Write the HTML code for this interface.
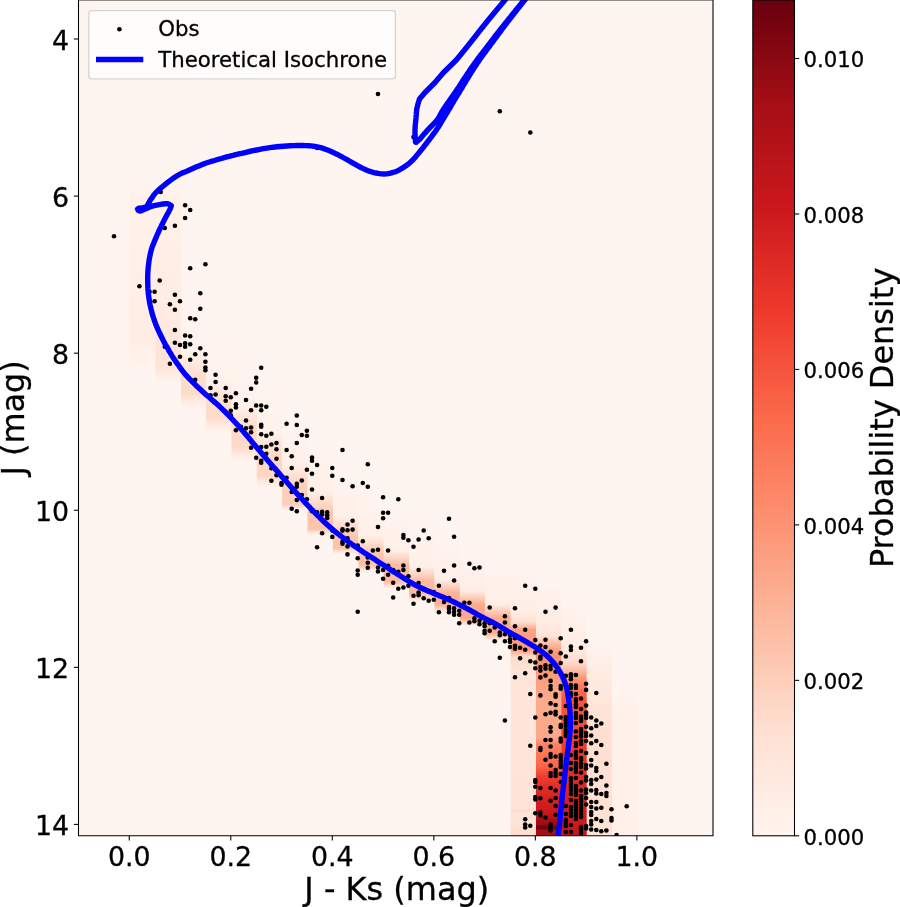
<!DOCTYPE html><html><head><meta charset="utf-8"><title>CMD</title><style>html,body{margin:0;padding:0;background:#fff;overflow:hidden}svg{display:block}text{font-family:"DejaVu Sans","Liberation Sans",sans-serif;fill:#000;stroke:#000;stroke-width:0.3px}</style></head><body>
<svg width="900" height="907" viewBox="0 0 900 907">
<rect width="900" height="907" fill="#fff"/>
<defs>
<clipPath id="ax"><rect x="78.5" y="0.0" width="634.5" height="835.8"/></clipPath>
<linearGradient id="cb" x1="0" y1="0" x2="0" y2="1"><stop offset="0.0000" stop-color="#67000d"/><stop offset="0.0312" stop-color="#76040f"/><stop offset="0.0625" stop-color="#860811"/><stop offset="0.0938" stop-color="#960b13"/><stop offset="0.1250" stop-color="#a50f15"/><stop offset="0.1562" stop-color="#ae1117"/><stop offset="0.1875" stop-color="#b81419"/><stop offset="0.2188" stop-color="#c2161b"/><stop offset="0.2500" stop-color="#cb181d"/><stop offset="0.2812" stop-color="#d42121"/><stop offset="0.3125" stop-color="#dd2a24"/><stop offset="0.3438" stop-color="#e63228"/><stop offset="0.3750" stop-color="#ef3b2c"/><stop offset="0.4062" stop-color="#f24734"/><stop offset="0.4375" stop-color="#f5523b"/><stop offset="0.4688" stop-color="#f85e42"/><stop offset="0.5000" stop-color="#fb6a4a"/><stop offset="0.5312" stop-color="#fb7454"/><stop offset="0.5625" stop-color="#fc7e5e"/><stop offset="0.5938" stop-color="#fc8868"/><stop offset="0.6250" stop-color="#fc9272"/><stop offset="0.6562" stop-color="#fc9c7e"/><stop offset="0.6875" stop-color="#fca68a"/><stop offset="0.7188" stop-color="#fcb195"/><stop offset="0.7500" stop-color="#fcbba1"/><stop offset="0.7812" stop-color="#fcc4ad"/><stop offset="0.8125" stop-color="#fdceba"/><stop offset="0.8438" stop-color="#fed7c6"/><stop offset="0.8750" stop-color="#fee0d2"/><stop offset="0.9062" stop-color="#fee5da"/><stop offset="0.9375" stop-color="#feeae1"/><stop offset="0.9688" stop-color="#fff0e8"/><stop offset="1.0000" stop-color="#fff5f0"/></linearGradient>
<linearGradient id="h0" gradientUnits="userSpaceOnUse" x1="0" y1="0.0" x2="0" y2="835.8"><stop offset="0.0000" stop-color="#fff5f0"/><stop offset="0.3673" stop-color="#fff5f0"/><stop offset="0.4235" stop-color="#fff2eb"/><stop offset="0.4520" stop-color="#fedccc"/><stop offset="0.4715" stop-color="#fedccc"/><stop offset="0.4810" stop-color="#ffece3"/><stop offset="0.4906" stop-color="#fff5f0"/><stop offset="1.0002" stop-color="#fff5f0"/></linearGradient>
<linearGradient id="h1" gradientUnits="userSpaceOnUse" x1="0" y1="0.0" x2="0" y2="835.8"><stop offset="0.0000" stop-color="#fff5f0"/><stop offset="0.3997" stop-color="#fff5f0"/><stop offset="0.4559" stop-color="#fff2eb"/><stop offset="0.4829" stop-color="#fedccc"/><stop offset="0.5000" stop-color="#fedccc"/><stop offset="0.5096" stop-color="#ffece3"/><stop offset="0.5192" stop-color="#fff5f0"/><stop offset="1.0002" stop-color="#fff5f0"/></linearGradient>
<linearGradient id="h2" gradientUnits="userSpaceOnUse" x1="0" y1="0.0" x2="0" y2="835.8"><stop offset="0.0000" stop-color="#fff5f0"/><stop offset="0.4283" stop-color="#fff5f0"/><stop offset="0.4845" stop-color="#fff1eb"/><stop offset="0.5138" stop-color="#fed9c8"/><stop offset="0.5345" stop-color="#fed9c8"/><stop offset="0.5441" stop-color="#ffebe2"/><stop offset="0.5537" stop-color="#fff5f0"/><stop offset="1.0002" stop-color="#fff5f0"/></linearGradient>
<linearGradient id="h3" gradientUnits="userSpaceOnUse" x1="0" y1="0.0" x2="0" y2="835.8"><stop offset="0.0000" stop-color="#fff5f0"/><stop offset="0.4627" stop-color="#fff5f0"/><stop offset="0.5190" stop-color="#fff1eb"/><stop offset="0.5486" stop-color="#fdd6c4"/><stop offset="0.5697" stop-color="#fdd6c4"/><stop offset="0.5768" stop-color="#feeae1"/><stop offset="0.5840" stop-color="#fff5f0"/><stop offset="1.0002" stop-color="#fff5f0"/></linearGradient>
<linearGradient id="h4" gradientUnits="userSpaceOnUse" x1="0" y1="0.0" x2="0" y2="835.8"><stop offset="0.0000" stop-color="#fff5f0"/><stop offset="0.4979" stop-color="#fff5f0"/><stop offset="0.5541" stop-color="#fff1ea"/><stop offset="0.5832" stop-color="#fdceba"/><stop offset="0.6034" stop-color="#fdceba"/><stop offset="0.6076" stop-color="#fee9de"/><stop offset="0.6118" stop-color="#fff5f0"/><stop offset="1.0002" stop-color="#fff5f0"/></linearGradient>
<linearGradient id="h5" gradientUnits="userSpaceOnUse" x1="0" y1="0.0" x2="0" y2="835.8"><stop offset="0.0000" stop-color="#fff5f0"/><stop offset="0.5316" stop-color="#fff5f0"/><stop offset="0.5878" stop-color="#fff0e9"/><stop offset="0.6152" stop-color="#fcc4ad"/><stop offset="0.6330" stop-color="#fcc4ad"/><stop offset="0.6372" stop-color="#fee6db"/><stop offset="0.6414" stop-color="#fff5f0"/><stop offset="1.0002" stop-color="#fff5f0"/></linearGradient>
<linearGradient id="h6" gradientUnits="userSpaceOnUse" x1="0" y1="0.0" x2="0" y2="835.8"><stop offset="0.0000" stop-color="#fff5f0"/><stop offset="0.5612" stop-color="#fff5f0"/><stop offset="0.6175" stop-color="#fff0e9"/><stop offset="0.6421" stop-color="#fcc4ad"/><stop offset="0.6558" stop-color="#fcc4ad"/><stop offset="0.6600" stop-color="#fee6db"/><stop offset="0.6642" stop-color="#fff5f0"/><stop offset="1.0002" stop-color="#fff5f0"/></linearGradient>
<linearGradient id="h7" gradientUnits="userSpaceOnUse" x1="0" y1="0.0" x2="0" y2="835.8"><stop offset="0.0000" stop-color="#fff5f0"/><stop offset="0.5840" stop-color="#fff5f0"/><stop offset="0.6402" stop-color="#fff0e8"/><stop offset="0.6638" stop-color="#fcc1a9"/><stop offset="0.6758" stop-color="#fcc1a9"/><stop offset="0.6812" stop-color="#fee6da"/><stop offset="0.6866" stop-color="#fff5f0"/><stop offset="1.0002" stop-color="#fff5f0"/></linearGradient>
<linearGradient id="h8" gradientUnits="userSpaceOnUse" x1="0" y1="0.0" x2="0" y2="835.8"><stop offset="0.0000" stop-color="#fff5f0"/><stop offset="0.6040" stop-color="#fff5f0"/><stop offset="0.6591" stop-color="#ffefe8"/><stop offset="0.6758" stop-color="#fcbba1"/><stop offset="0.6950" stop-color="#fcbba1"/><stop offset="0.7045" stop-color="#fff5f0"/><stop offset="1.0002" stop-color="#fff5f0"/></linearGradient>
<linearGradient id="h9" gradientUnits="userSpaceOnUse" x1="0" y1="0.0" x2="0" y2="835.8"><stop offset="0.0000" stop-color="#fff5f0"/><stop offset="0.6232" stop-color="#fff5f0"/><stop offset="0.6782" stop-color="#ffefe8"/><stop offset="0.6950" stop-color="#fcbba1"/><stop offset="0.7100" stop-color="#fcbba1"/><stop offset="0.7196" stop-color="#fff5f0"/><stop offset="1.0002" stop-color="#fff5f0"/></linearGradient>
<linearGradient id="h10" gradientUnits="userSpaceOnUse" x1="0" y1="0.0" x2="0" y2="835.8"><stop offset="0.0000" stop-color="#fff5f0"/><stop offset="0.6382" stop-color="#fff5f0"/><stop offset="0.6932" stop-color="#ffeee7"/><stop offset="0.7100" stop-color="#fcb196"/><stop offset="0.7235" stop-color="#fcb196"/><stop offset="0.7331" stop-color="#fff5f0"/><stop offset="1.0002" stop-color="#fff5f0"/></linearGradient>
<linearGradient id="h11" gradientUnits="userSpaceOnUse" x1="0" y1="0.0" x2="0" y2="835.8"><stop offset="0.0000" stop-color="#fff5f0"/><stop offset="0.6517" stop-color="#fff5f0"/><stop offset="0.7068" stop-color="#ffeee6"/><stop offset="0.7235" stop-color="#fcab8e"/><stop offset="0.7397" stop-color="#fcab8e"/><stop offset="0.7492" stop-color="#fff5f0"/><stop offset="1.0002" stop-color="#fff5f0"/></linearGradient>
<linearGradient id="h12" gradientUnits="userSpaceOnUse" x1="0" y1="0.0" x2="0" y2="835.8"><stop offset="0.0000" stop-color="#fff5f0"/><stop offset="0.6679" stop-color="#fff5f0"/><stop offset="0.7229" stop-color="#ffeee6"/><stop offset="0.7397" stop-color="#fcab8e"/><stop offset="0.7569" stop-color="#fcab8e"/><stop offset="0.7664" stop-color="#fff5f0"/><stop offset="1.0002" stop-color="#fff5f0"/></linearGradient>
<linearGradient id="h13" gradientUnits="userSpaceOnUse" x1="0" y1="0.0" x2="0" y2="835.8"><stop offset="0.0000" stop-color="#fff5f0"/><stop offset="0.2752" stop-color="#fff5f0"/><stop offset="0.3111" stop-color="#fff3ee"/><stop offset="0.4068" stop-color="#fff3ee"/><stop offset="0.4427" stop-color="#fff5f0"/><stop offset="1.0002" stop-color="#fff5f0"/></linearGradient>
<linearGradient id="h14" gradientUnits="userSpaceOnUse" x1="0" y1="0.0" x2="0" y2="835.8"><stop offset="0.0000" stop-color="#fff5f0"/><stop offset="0.2213" stop-color="#fff5f0"/><stop offset="0.2393" stop-color="#fff1ea"/><stop offset="0.3589" stop-color="#ffeee6"/><stop offset="0.4068" stop-color="#ffede4"/><stop offset="0.4451" stop-color="#fff5f0"/><stop offset="1.0002" stop-color="#fff5f0"/></linearGradient>
<linearGradient id="h15" gradientUnits="userSpaceOnUse" x1="0" y1="0.0" x2="0" y2="835.8"><stop offset="0.0000" stop-color="#fff5f0"/><stop offset="0.2213" stop-color="#fff5f0"/><stop offset="0.2393" stop-color="#fff1ea"/><stop offset="0.3829" stop-color="#ffebe2"/><stop offset="0.4104" stop-color="#fee4d8"/><stop offset="0.4403" stop-color="#fee4d8"/><stop offset="0.4499" stop-color="#ffeee6"/><stop offset="0.4594" stop-color="#fff5f0"/><stop offset="1.0002" stop-color="#fff5f0"/></linearGradient>
<linearGradient id="h16" gradientUnits="userSpaceOnUse" x1="0" y1="0.0" x2="0" y2="835.8"><stop offset="0.0000" stop-color="#fff5f0"/><stop offset="0.6700" stop-color="#fff5f0"/><stop offset="0.7322" stop-color="#ffede4"/><stop offset="0.7442" stop-color="#fee1d3"/><stop offset="0.7538" stop-color="#fca183"/><stop offset="0.7765" stop-color="#fc9a7b"/><stop offset="0.7861" stop-color="#fedccc"/><stop offset="0.8040" stop-color="#fee4d8"/><stop offset="0.8375" stop-color="#fee6da"/><stop offset="0.9667" stop-color="#fee4d8"/><stop offset="0.9703" stop-color="#fedfd0"/><stop offset="0.9727" stop-color="#fee4d8"/><stop offset="0.9859" stop-color="#fee4d8"/><stop offset="0.9907" stop-color="#fedfd0"/><stop offset="1.0002" stop-color="#fedfd0"/></linearGradient>
<linearGradient id="h17" gradientUnits="userSpaceOnUse" x1="0" y1="0.0" x2="0" y2="835.8"><stop offset="0.0000" stop-color="#fff5f0"/><stop offset="0.6939" stop-color="#fff5f0"/><stop offset="0.7478" stop-color="#ffebe2"/><stop offset="0.7609" stop-color="#fee3d6"/><stop offset="0.7705" stop-color="#fcbba1"/><stop offset="0.7801" stop-color="#fc9778"/><stop offset="0.7897" stop-color="#fc9070"/><stop offset="0.8064" stop-color="#fc9a7b"/><stop offset="0.8375" stop-color="#fcab8e"/><stop offset="0.8830" stop-color="#fca78a"/><stop offset="0.8902" stop-color="#fc8464"/><stop offset="0.9153" stop-color="#fb6a4a"/><stop offset="0.9285" stop-color="#ef3d2d"/><stop offset="0.9440" stop-color="#df2c25"/><stop offset="0.9572" stop-color="#d42021"/><stop offset="0.9727" stop-color="#cb181d"/><stop offset="0.9763" stop-color="#c2161b"/><stop offset="0.9799" stop-color="#aa1016"/><stop offset="0.9865" stop-color="#990c13"/><stop offset="0.9883" stop-color="#76040f"/><stop offset="0.9919" stop-color="#76040f"/><stop offset="0.9937" stop-color="#a30e15"/><stop offset="1.0002" stop-color="#aa1016"/></linearGradient>
<linearGradient id="h18" gradientUnits="userSpaceOnUse" x1="0" y1="0.0" x2="0" y2="835.8"><stop offset="0.0000" stop-color="#fff5f0"/><stop offset="0.7179" stop-color="#fff5f0"/><stop offset="0.7657" stop-color="#ffeee6"/><stop offset="0.7801" stop-color="#fee8dd"/><stop offset="0.7933" stop-color="#fed9c8"/><stop offset="0.8004" stop-color="#fcc4ad"/><stop offset="0.8064" stop-color="#fcab8e"/><stop offset="0.8136" stop-color="#fc9070"/><stop offset="0.8256" stop-color="#fb7050"/><stop offset="0.8375" stop-color="#f6573e"/><stop offset="0.8615" stop-color="#f45039"/><stop offset="0.8973" stop-color="#ee3a2b"/><stop offset="0.9332" stop-color="#df2c25"/><stop offset="0.9691" stop-color="#d11e1f"/><stop offset="1.0002" stop-color="#c2161b"/></linearGradient>
<linearGradient id="h19" gradientUnits="userSpaceOnUse" x1="0" y1="0.0" x2="0" y2="835.8"><stop offset="0.0000" stop-color="#fff5f0"/><stop offset="0.7657" stop-color="#fff5f0"/><stop offset="0.7956" stop-color="#ffeee6"/><stop offset="0.8375" stop-color="#fee6da"/><stop offset="0.8854" stop-color="#fedfd0"/><stop offset="0.9332" stop-color="#fee1d3"/><stop offset="1.0002" stop-color="#fee3d6"/></linearGradient>
<linearGradient id="h20" gradientUnits="userSpaceOnUse" x1="0" y1="0.0" x2="0" y2="835.8"><stop offset="0.0000" stop-color="#fff5f0"/><stop offset="0.8136" stop-color="#fff5f0"/><stop offset="0.8615" stop-color="#fff0e9"/><stop offset="1.0002" stop-color="#fff0e9"/></linearGradient>
</defs>
<rect x="78.5" y="0.0" width="634.5" height="835.8" fill="#fff5f0"/>
<g clip-path="url(#ax)">
<rect x="180.62" y="0.0" width="25.68" height="835.8" fill="url(#h0)"/>
<rect x="206.00" y="0.0" width="25.68" height="835.8" fill="url(#h1)"/>
<rect x="231.38" y="0.0" width="25.68" height="835.8" fill="url(#h2)"/>
<rect x="256.76" y="0.0" width="25.68" height="835.8" fill="url(#h3)"/>
<rect x="282.14" y="0.0" width="25.68" height="835.8" fill="url(#h4)"/>
<rect x="307.52" y="0.0" width="25.68" height="835.8" fill="url(#h5)"/>
<rect x="332.90" y="0.0" width="25.68" height="835.8" fill="url(#h6)"/>
<rect x="358.28" y="0.0" width="25.68" height="835.8" fill="url(#h7)"/>
<rect x="383.66" y="0.0" width="25.68" height="835.8" fill="url(#h8)"/>
<rect x="409.04" y="0.0" width="25.68" height="835.8" fill="url(#h9)"/>
<rect x="434.42" y="0.0" width="25.68" height="835.8" fill="url(#h10)"/>
<rect x="459.80" y="0.0" width="25.68" height="835.8" fill="url(#h11)"/>
<rect x="485.18" y="0.0" width="25.68" height="835.8" fill="url(#h12)"/>
<rect x="104.48" y="0.0" width="25.68" height="835.8" fill="url(#h13)"/>
<rect x="129.86" y="0.0" width="25.68" height="835.8" fill="url(#h14)"/>
<rect x="155.24" y="0.0" width="25.68" height="835.8" fill="url(#h15)"/>
<rect x="510.56" y="0.0" width="25.68" height="835.8" fill="url(#h16)"/>
<rect x="535.94" y="0.0" width="25.68" height="835.8" fill="url(#h17)"/>
<rect x="561.32" y="0.0" width="25.68" height="835.8" fill="url(#h18)"/>
<rect x="586.70" y="0.0" width="25.68" height="835.8" fill="url(#h19)"/>
<rect x="612.08" y="0.0" width="25.68" height="835.8" fill="url(#h20)"/>
<g fill="#000">
<circle cx="378.0" cy="94.0" r="2.3"/>
<circle cx="378.0" cy="527.0" r="2.3"/>
<circle cx="378.0" cy="549.7" r="2.3"/>
<circle cx="378.0" cy="567.5" r="2.3"/>
<circle cx="378.0" cy="571.5" r="2.3"/>
<circle cx="499.8" cy="111.3" r="2.3"/>
<circle cx="499.8" cy="632.5" r="2.3"/>
<circle cx="499.8" cy="635.3" r="2.3"/>
<circle cx="499.8" cy="657.8" r="2.3"/>
<circle cx="530.3" cy="132.5" r="2.3"/>
<circle cx="530.3" cy="661.2" r="2.3"/>
<circle cx="530.3" cy="694.0" r="2.3"/>
<circle cx="530.3" cy="745.8" r="2.3"/>
<circle cx="530.3" cy="825.8" r="2.3"/>
<circle cx="413.5" cy="137.0" r="2.3"/>
<circle cx="413.5" cy="546.7" r="2.3"/>
<circle cx="413.5" cy="595.8" r="2.3"/>
<circle cx="413.5" cy="603.8" r="2.3"/>
<circle cx="185.1" cy="205.3" r="2.3"/>
<circle cx="185.1" cy="218.0" r="2.3"/>
<circle cx="185.1" cy="335.5" r="2.3"/>
<circle cx="185.1" cy="343.3" r="2.3"/>
<circle cx="185.1" cy="346.7" r="2.3"/>
<circle cx="190.2" cy="210.0" r="2.3"/>
<circle cx="190.2" cy="268.3" r="2.3"/>
<circle cx="190.2" cy="318.3" r="2.3"/>
<circle cx="190.2" cy="336.2" r="2.3"/>
<circle cx="190.2" cy="344.2" r="2.3"/>
<circle cx="190.2" cy="359.8" r="2.3"/>
<circle cx="174.9" cy="225.8" r="2.3"/>
<circle cx="174.9" cy="294.7" r="2.3"/>
<circle cx="174.9" cy="309.7" r="2.3"/>
<circle cx="174.9" cy="330.0" r="2.3"/>
<circle cx="174.9" cy="342.8" r="2.3"/>
<circle cx="164.8" cy="228.0" r="2.3"/>
<circle cx="164.8" cy="346.7" r="2.3"/>
<circle cx="160.7" cy="192.0" r="2.3"/>
<circle cx="149.6" cy="291.7" r="2.3"/>
<circle cx="317.1" cy="148.0" r="2.3"/>
<circle cx="317.1" cy="465.0" r="2.3"/>
<circle cx="317.1" cy="512.4" r="2.3"/>
<circle cx="317.1" cy="547.2" r="2.3"/>
<circle cx="114.0" cy="236.2" r="2.3"/>
<circle cx="205.4" cy="264.2" r="2.3"/>
<circle cx="205.4" cy="354.3" r="2.3"/>
<circle cx="205.4" cy="361.7" r="2.3"/>
<circle cx="205.4" cy="367.5" r="2.3"/>
<circle cx="205.4" cy="370.3" r="2.3"/>
<circle cx="159.7" cy="280.5" r="2.3"/>
<circle cx="139.4" cy="286.2" r="2.3"/>
<circle cx="154.6" cy="291.7" r="2.3"/>
<circle cx="154.6" cy="301.2" r="2.3"/>
<circle cx="154.6" cy="320.8" r="2.3"/>
<circle cx="200.3" cy="293.3" r="2.3"/>
<circle cx="200.3" cy="308.8" r="2.3"/>
<circle cx="200.3" cy="348.2" r="2.3"/>
<circle cx="180.0" cy="301.2" r="2.3"/>
<circle cx="180.0" cy="345.0" r="2.3"/>
<circle cx="180.0" cy="356.8" r="2.3"/>
<circle cx="169.9" cy="304.2" r="2.3"/>
<circle cx="169.9" cy="363.7" r="2.3"/>
<circle cx="195.2" cy="319.3" r="2.3"/>
<circle cx="195.2" cy="354.3" r="2.3"/>
<circle cx="195.2" cy="379.7" r="2.3"/>
<circle cx="215.6" cy="374.7" r="2.3"/>
<circle cx="215.6" cy="382.0" r="2.3"/>
<circle cx="215.6" cy="394.5" r="2.3"/>
<circle cx="256.2" cy="377.8" r="2.3"/>
<circle cx="256.2" cy="382.5" r="2.3"/>
<circle cx="256.2" cy="405.5" r="2.3"/>
<circle cx="256.2" cy="457.8" r="2.3"/>
<circle cx="261.2" cy="367.8" r="2.3"/>
<circle cx="261.2" cy="405.5" r="2.3"/>
<circle cx="261.2" cy="410.3" r="2.3"/>
<circle cx="261.2" cy="424.7" r="2.3"/>
<circle cx="261.2" cy="426.7" r="2.3"/>
<circle cx="261.2" cy="434.2" r="2.3"/>
<circle cx="261.2" cy="447.0" r="2.3"/>
<circle cx="261.2" cy="460.8" r="2.3"/>
<circle cx="261.2" cy="462.8" r="2.3"/>
<circle cx="210.5" cy="388.0" r="2.3"/>
<circle cx="210.5" cy="395.3" r="2.3"/>
<circle cx="225.7" cy="388.0" r="2.3"/>
<circle cx="225.7" cy="396.2" r="2.3"/>
<circle cx="225.7" cy="400.8" r="2.3"/>
<circle cx="251.1" cy="388.7" r="2.3"/>
<circle cx="251.1" cy="410.3" r="2.3"/>
<circle cx="251.1" cy="427.5" r="2.3"/>
<circle cx="251.1" cy="432.2" r="2.3"/>
<circle cx="251.1" cy="447.8" r="2.3"/>
<circle cx="235.9" cy="393.3" r="2.3"/>
<circle cx="235.9" cy="404.2" r="2.3"/>
<circle cx="235.9" cy="407.5" r="2.3"/>
<circle cx="235.9" cy="430.3" r="2.3"/>
<circle cx="230.8" cy="397.2" r="2.3"/>
<circle cx="230.8" cy="410.8" r="2.3"/>
<circle cx="230.8" cy="415.3" r="2.3"/>
<circle cx="246.0" cy="400.0" r="2.3"/>
<circle cx="246.0" cy="420.5" r="2.3"/>
<circle cx="246.0" cy="428.3" r="2.3"/>
<circle cx="266.3" cy="406.7" r="2.3"/>
<circle cx="266.3" cy="435.8" r="2.3"/>
<circle cx="266.3" cy="446.7" r="2.3"/>
<circle cx="266.3" cy="453.8" r="2.3"/>
<circle cx="296.8" cy="415.5" r="2.3"/>
<circle cx="296.8" cy="425.0" r="2.3"/>
<circle cx="296.8" cy="443.0" r="2.3"/>
<circle cx="296.8" cy="483.7" r="2.3"/>
<circle cx="296.8" cy="486.7" r="2.3"/>
<circle cx="296.8" cy="500.0" r="2.3"/>
<circle cx="296.8" cy="511.3" r="2.3"/>
<circle cx="286.6" cy="423.7" r="2.3"/>
<circle cx="286.6" cy="450.0" r="2.3"/>
<circle cx="286.6" cy="477.8" r="2.3"/>
<circle cx="240.9" cy="426.7" r="2.3"/>
<circle cx="271.4" cy="433.7" r="2.3"/>
<circle cx="271.4" cy="444.5" r="2.3"/>
<circle cx="271.4" cy="468.3" r="2.3"/>
<circle cx="271.4" cy="480.8" r="2.3"/>
<circle cx="276.5" cy="443.0" r="2.3"/>
<circle cx="276.5" cy="449.2" r="2.3"/>
<circle cx="276.5" cy="458.7" r="2.3"/>
<circle cx="276.5" cy="475.3" r="2.3"/>
<circle cx="291.7" cy="456.3" r="2.3"/>
<circle cx="291.7" cy="468.0" r="2.3"/>
<circle cx="291.7" cy="492.0" r="2.3"/>
<circle cx="291.7" cy="508.8" r="2.3"/>
<circle cx="281.5" cy="483.0" r="2.3"/>
<circle cx="281.5" cy="484.7" r="2.3"/>
<circle cx="306.9" cy="430.8" r="2.3"/>
<circle cx="306.9" cy="435.8" r="2.3"/>
<circle cx="306.9" cy="469.7" r="2.3"/>
<circle cx="306.9" cy="499.2" r="2.3"/>
<circle cx="301.8" cy="435.0" r="2.3"/>
<circle cx="301.8" cy="480.5" r="2.3"/>
<circle cx="301.8" cy="495.0" r="2.3"/>
<circle cx="342.5" cy="450.0" r="2.3"/>
<circle cx="342.5" cy="480.0" r="2.3"/>
<circle cx="342.5" cy="529.2" r="2.3"/>
<circle cx="342.5" cy="530.8" r="2.3"/>
<circle cx="342.5" cy="541.7" r="2.3"/>
<circle cx="342.5" cy="543.8" r="2.3"/>
<circle cx="312.0" cy="457.5" r="2.3"/>
<circle cx="312.0" cy="460.8" r="2.3"/>
<circle cx="312.0" cy="473.7" r="2.3"/>
<circle cx="312.0" cy="489.5" r="2.3"/>
<circle cx="312.0" cy="511.3" r="2.3"/>
<circle cx="367.8" cy="464.2" r="2.3"/>
<circle cx="367.8" cy="486.7" r="2.3"/>
<circle cx="367.8" cy="557.5" r="2.3"/>
<circle cx="367.8" cy="562.8" r="2.3"/>
<circle cx="367.8" cy="567.8" r="2.3"/>
<circle cx="332.3" cy="468.0" r="2.3"/>
<circle cx="332.3" cy="475.8" r="2.3"/>
<circle cx="332.3" cy="530.6" r="2.3"/>
<circle cx="332.3" cy="536.9" r="2.3"/>
<circle cx="362.8" cy="483.0" r="2.3"/>
<circle cx="362.8" cy="541.2" r="2.3"/>
<circle cx="352.6" cy="486.2" r="2.3"/>
<circle cx="352.6" cy="520.8" r="2.3"/>
<circle cx="352.6" cy="529.6" r="2.3"/>
<circle cx="322.1" cy="498.0" r="2.3"/>
<circle cx="322.1" cy="511.9" r="2.3"/>
<circle cx="322.1" cy="514.5" r="2.3"/>
<circle cx="322.1" cy="533.2" r="2.3"/>
<circle cx="383.1" cy="497.2" r="2.3"/>
<circle cx="383.1" cy="512.8" r="2.3"/>
<circle cx="383.1" cy="518.3" r="2.3"/>
<circle cx="383.1" cy="570.0" r="2.3"/>
<circle cx="383.1" cy="578.8" r="2.3"/>
<circle cx="398.3" cy="499.3" r="2.3"/>
<circle cx="398.3" cy="571.7" r="2.3"/>
<circle cx="398.3" cy="588.8" r="2.3"/>
<circle cx="388.1" cy="512.8" r="2.3"/>
<circle cx="388.1" cy="550.5" r="2.3"/>
<circle cx="388.1" cy="565.8" r="2.3"/>
<circle cx="388.1" cy="574.7" r="2.3"/>
<circle cx="327.2" cy="512.4" r="2.3"/>
<circle cx="327.2" cy="515.2" r="2.3"/>
<circle cx="327.2" cy="518.0" r="2.3"/>
<circle cx="347.5" cy="524.5" r="2.3"/>
<circle cx="347.5" cy="530.2" r="2.3"/>
<circle cx="347.5" cy="538.2" r="2.3"/>
<circle cx="347.5" cy="546.4" r="2.3"/>
<circle cx="347.5" cy="554.4" r="2.3"/>
<circle cx="449.0" cy="518.8" r="2.3"/>
<circle cx="449.0" cy="598.0" r="2.3"/>
<circle cx="449.0" cy="609.0" r="2.3"/>
<circle cx="449.0" cy="607.0" r="2.3"/>
<circle cx="449.0" cy="612.2" r="2.3"/>
<circle cx="423.7" cy="530.5" r="2.3"/>
<circle cx="423.7" cy="598.3" r="2.3"/>
<circle cx="357.7" cy="545.5" r="2.3"/>
<circle cx="357.7" cy="558.3" r="2.3"/>
<circle cx="357.7" cy="570.5" r="2.3"/>
<circle cx="357.7" cy="574.7" r="2.3"/>
<circle cx="357.7" cy="611.7" r="2.3"/>
<circle cx="372.9" cy="550.5" r="2.3"/>
<circle cx="393.2" cy="570.0" r="2.3"/>
<circle cx="393.2" cy="582.8" r="2.3"/>
<circle cx="393.2" cy="597.5" r="2.3"/>
<circle cx="403.4" cy="535.0" r="2.3"/>
<circle cx="403.4" cy="537.8" r="2.3"/>
<circle cx="403.4" cy="565.5" r="2.3"/>
<circle cx="403.4" cy="570.0" r="2.3"/>
<circle cx="403.4" cy="587.5" r="2.3"/>
<circle cx="408.4" cy="540.3" r="2.3"/>
<circle cx="408.4" cy="576.2" r="2.3"/>
<circle cx="408.4" cy="585.8" r="2.3"/>
<circle cx="418.6" cy="539.5" r="2.3"/>
<circle cx="418.6" cy="570.0" r="2.3"/>
<circle cx="418.6" cy="583.0" r="2.3"/>
<circle cx="418.6" cy="592.5" r="2.3"/>
<circle cx="418.6" cy="595.3" r="2.3"/>
<circle cx="428.7" cy="538.3" r="2.3"/>
<circle cx="428.7" cy="600.8" r="2.3"/>
<circle cx="433.8" cy="592.0" r="2.3"/>
<circle cx="433.8" cy="599.7" r="2.3"/>
<circle cx="438.9" cy="585.8" r="2.3"/>
<circle cx="438.9" cy="612.2" r="2.3"/>
<circle cx="444.0" cy="570.8" r="2.3"/>
<circle cx="444.0" cy="602.0" r="2.3"/>
<circle cx="454.1" cy="536.7" r="2.3"/>
<circle cx="454.1" cy="565.5" r="2.3"/>
<circle cx="454.1" cy="580.5" r="2.3"/>
<circle cx="454.1" cy="608.3" r="2.3"/>
<circle cx="454.1" cy="611.7" r="2.3"/>
<circle cx="454.1" cy="614.7" r="2.3"/>
<circle cx="469.4" cy="563.7" r="2.3"/>
<circle cx="469.4" cy="602.8" r="2.3"/>
<circle cx="469.4" cy="622.5" r="2.3"/>
<circle cx="474.4" cy="568.3" r="2.3"/>
<circle cx="474.4" cy="618.3" r="2.3"/>
<circle cx="474.4" cy="621.2" r="2.3"/>
<circle cx="479.5" cy="567.5" r="2.3"/>
<circle cx="479.5" cy="620.8" r="2.3"/>
<circle cx="479.5" cy="624.2" r="2.3"/>
<circle cx="525.2" cy="585.8" r="2.3"/>
<circle cx="525.2" cy="629.7" r="2.3"/>
<circle cx="525.2" cy="649.7" r="2.3"/>
<circle cx="525.2" cy="673.3" r="2.3"/>
<circle cx="525.2" cy="819.2" r="2.3"/>
<circle cx="525.2" cy="824.5" r="2.3"/>
<circle cx="525.2" cy="827.5" r="2.3"/>
<circle cx="535.3" cy="588.8" r="2.3"/>
<circle cx="535.3" cy="640.0" r="2.3"/>
<circle cx="535.3" cy="652.5" r="2.3"/>
<circle cx="535.3" cy="662.5" r="2.3"/>
<circle cx="535.3" cy="668.3" r="2.3"/>
<circle cx="535.3" cy="717.5" r="2.3"/>
<circle cx="535.3" cy="780.0" r="2.3"/>
<circle cx="535.3" cy="782.0" r="2.3"/>
<circle cx="535.3" cy="786.7" r="2.3"/>
<circle cx="535.3" cy="797.0" r="2.3"/>
<circle cx="535.3" cy="799.5" r="2.3"/>
<circle cx="535.3" cy="813.2" r="2.3"/>
<circle cx="464.3" cy="602.8" r="2.3"/>
<circle cx="489.7" cy="607.5" r="2.3"/>
<circle cx="489.7" cy="623.3" r="2.3"/>
<circle cx="489.7" cy="630.8" r="2.3"/>
<circle cx="515.0" cy="608.3" r="2.3"/>
<circle cx="515.0" cy="626.3" r="2.3"/>
<circle cx="515.0" cy="638.3" r="2.3"/>
<circle cx="515.0" cy="645.8" r="2.3"/>
<circle cx="515.0" cy="648.7" r="2.3"/>
<circle cx="515.0" cy="677.2" r="2.3"/>
<circle cx="555.6" cy="607.6" r="2.3"/>
<circle cx="555.6" cy="671.7" r="2.3"/>
<circle cx="555.6" cy="694.3" r="2.3"/>
<circle cx="555.6" cy="696.8" r="2.3"/>
<circle cx="555.6" cy="705.0" r="2.3"/>
<circle cx="555.6" cy="711.8" r="2.3"/>
<circle cx="555.6" cy="714.5" r="2.3"/>
<circle cx="555.6" cy="756.5" r="2.3"/>
<circle cx="555.6" cy="770.0" r="2.3"/>
<circle cx="555.6" cy="773.0" r="2.3"/>
<circle cx="555.6" cy="776.0" r="2.3"/>
<circle cx="555.6" cy="790.5" r="2.3"/>
<circle cx="555.6" cy="798.0" r="2.3"/>
<circle cx="555.6" cy="806.0" r="2.3"/>
<circle cx="555.6" cy="814.8" r="2.3"/>
<circle cx="545.5" cy="611.7" r="2.3"/>
<circle cx="545.5" cy="639.7" r="2.3"/>
<circle cx="545.5" cy="647.0" r="2.3"/>
<circle cx="545.5" cy="665.2" r="2.3"/>
<circle cx="545.5" cy="668.6" r="2.3"/>
<circle cx="545.5" cy="675.6" r="2.3"/>
<circle cx="545.5" cy="714.3" r="2.3"/>
<circle cx="545.5" cy="740.0" r="2.3"/>
<circle cx="545.5" cy="759.7" r="2.3"/>
<circle cx="545.5" cy="817.5" r="2.3"/>
<circle cx="504.9" cy="616.2" r="2.3"/>
<circle cx="504.9" cy="622.5" r="2.3"/>
<circle cx="504.9" cy="634.2" r="2.3"/>
<circle cx="504.9" cy="641.3" r="2.3"/>
<circle cx="504.9" cy="720.5" r="2.3"/>
<circle cx="459.2" cy="610.8" r="2.3"/>
<circle cx="459.2" cy="614.7" r="2.3"/>
<circle cx="459.2" cy="623.3" r="2.3"/>
<circle cx="484.6" cy="623.3" r="2.3"/>
<circle cx="484.6" cy="626.3" r="2.3"/>
<circle cx="484.6" cy="630.8" r="2.3"/>
<circle cx="484.6" cy="633.3" r="2.3"/>
<circle cx="494.7" cy="627.5" r="2.3"/>
<circle cx="494.7" cy="641.3" r="2.3"/>
<circle cx="570.9" cy="629.7" r="2.3"/>
<circle cx="570.9" cy="646.5" r="2.3"/>
<circle cx="570.9" cy="650.0" r="2.3"/>
<circle cx="570.9" cy="674.2" r="2.3"/>
<circle cx="570.9" cy="676.8" r="2.3"/>
<circle cx="570.9" cy="679.2" r="2.3"/>
<circle cx="570.9" cy="685.0" r="2.3"/>
<circle cx="570.9" cy="688.0" r="2.3"/>
<circle cx="570.9" cy="693.0" r="2.3"/>
<circle cx="570.9" cy="696.0" r="2.3"/>
<circle cx="570.9" cy="755.0" r="2.3"/>
<circle cx="570.9" cy="763.0" r="2.3"/>
<circle cx="570.9" cy="769.0" r="2.3"/>
<circle cx="570.9" cy="778.0" r="2.3"/>
<circle cx="570.9" cy="781.0" r="2.3"/>
<circle cx="570.9" cy="784.0" r="2.3"/>
<circle cx="570.9" cy="787.0" r="2.3"/>
<circle cx="570.9" cy="790.0" r="2.3"/>
<circle cx="570.9" cy="794.0" r="2.3"/>
<circle cx="570.9" cy="800.0" r="2.3"/>
<circle cx="570.9" cy="807.0" r="2.3"/>
<circle cx="570.9" cy="810.0" r="2.3"/>
<circle cx="570.9" cy="813.0" r="2.3"/>
<circle cx="570.9" cy="816.0" r="2.3"/>
<circle cx="570.9" cy="825.0" r="2.3"/>
<circle cx="570.9" cy="832.0" r="2.3"/>
<circle cx="510.0" cy="635.0" r="2.3"/>
<circle cx="510.0" cy="639.2" r="2.3"/>
<circle cx="510.0" cy="642.0" r="2.3"/>
<circle cx="510.0" cy="647.0" r="2.3"/>
<circle cx="520.1" cy="647.8" r="2.3"/>
<circle cx="520.1" cy="658.3" r="2.3"/>
<circle cx="560.7" cy="638.3" r="2.3"/>
<circle cx="560.7" cy="653.2" r="2.3"/>
<circle cx="560.7" cy="663.0" r="2.3"/>
<circle cx="560.7" cy="686.0" r="2.3"/>
<circle cx="560.7" cy="688.8" r="2.3"/>
<circle cx="560.7" cy="717.5" r="2.3"/>
<circle cx="560.7" cy="725.0" r="2.3"/>
<circle cx="560.7" cy="727.0" r="2.3"/>
<circle cx="560.7" cy="738.5" r="2.3"/>
<circle cx="560.7" cy="741.5" r="2.3"/>
<circle cx="560.7" cy="755.0" r="2.3"/>
<circle cx="560.7" cy="758.0" r="2.3"/>
<circle cx="560.7" cy="761.0" r="2.3"/>
<circle cx="560.7" cy="764.0" r="2.3"/>
<circle cx="560.7" cy="767.0" r="2.3"/>
<circle cx="560.7" cy="774.0" r="2.3"/>
<circle cx="560.7" cy="782.0" r="2.3"/>
<circle cx="586.1" cy="641.2" r="2.3"/>
<circle cx="586.1" cy="683.8" r="2.3"/>
<circle cx="586.1" cy="689.9" r="2.3"/>
<circle cx="586.1" cy="705.6" r="2.3"/>
<circle cx="586.1" cy="712.5" r="2.3"/>
<circle cx="586.1" cy="715.0" r="2.3"/>
<circle cx="586.1" cy="718.0" r="2.3"/>
<circle cx="586.1" cy="726.8" r="2.3"/>
<circle cx="586.1" cy="733.0" r="2.3"/>
<circle cx="586.1" cy="736.0" r="2.3"/>
<circle cx="586.1" cy="741.0" r="2.3"/>
<circle cx="586.1" cy="753.0" r="2.3"/>
<circle cx="586.1" cy="765.0" r="2.3"/>
<circle cx="586.1" cy="768.5" r="2.3"/>
<circle cx="586.1" cy="777.0" r="2.3"/>
<circle cx="586.1" cy="780.5" r="2.3"/>
<circle cx="586.1" cy="789.5" r="2.3"/>
<circle cx="586.1" cy="793.0" r="2.3"/>
<circle cx="586.1" cy="798.0" r="2.3"/>
<circle cx="586.1" cy="804.5" r="2.3"/>
<circle cx="586.1" cy="826.0" r="2.3"/>
<circle cx="586.1" cy="828.5" r="2.3"/>
<circle cx="540.4" cy="645.6" r="2.3"/>
<circle cx="540.4" cy="656.7" r="2.3"/>
<circle cx="540.4" cy="658.7" r="2.3"/>
<circle cx="540.4" cy="667.0" r="2.3"/>
<circle cx="540.4" cy="670.6" r="2.3"/>
<circle cx="540.4" cy="677.4" r="2.3"/>
<circle cx="540.4" cy="695.4" r="2.3"/>
<circle cx="540.4" cy="748.0" r="2.3"/>
<circle cx="540.4" cy="750.0" r="2.3"/>
<circle cx="540.4" cy="788.0" r="2.3"/>
<circle cx="540.4" cy="798.3" r="2.3"/>
<circle cx="540.4" cy="812.5" r="2.3"/>
<circle cx="540.4" cy="815.5" r="2.3"/>
<circle cx="550.6" cy="651.7" r="2.3"/>
<circle cx="550.6" cy="665.9" r="2.3"/>
<circle cx="550.6" cy="669.1" r="2.3"/>
<circle cx="550.6" cy="680.9" r="2.3"/>
<circle cx="550.6" cy="686.0" r="2.3"/>
<circle cx="550.6" cy="689.2" r="2.3"/>
<circle cx="550.6" cy="703.4" r="2.3"/>
<circle cx="550.6" cy="712.8" r="2.3"/>
<circle cx="550.6" cy="727.2" r="2.3"/>
<circle cx="550.6" cy="731.6" r="2.3"/>
<circle cx="550.6" cy="740.0" r="2.3"/>
<circle cx="550.6" cy="746.5" r="2.3"/>
<circle cx="550.6" cy="754.0" r="2.3"/>
<circle cx="550.6" cy="757.0" r="2.3"/>
<circle cx="550.6" cy="765.5" r="2.3"/>
<circle cx="550.6" cy="773.0" r="2.3"/>
<circle cx="550.6" cy="776.0" r="2.3"/>
<circle cx="550.6" cy="788.0" r="2.3"/>
<circle cx="550.6" cy="800.8" r="2.3"/>
<circle cx="550.6" cy="824.5" r="2.3"/>
<circle cx="550.6" cy="827.5" r="2.3"/>
<circle cx="550.6" cy="830.5" r="2.3"/>
<circle cx="565.8" cy="656.5" r="2.3"/>
<circle cx="565.8" cy="675.7" r="2.3"/>
<circle cx="565.8" cy="706.0" r="2.3"/>
<circle cx="565.8" cy="717.0" r="2.3"/>
<circle cx="565.8" cy="720.0" r="2.3"/>
<circle cx="565.8" cy="723.0" r="2.3"/>
<circle cx="565.8" cy="726.0" r="2.3"/>
<circle cx="565.8" cy="730.0" r="2.3"/>
<circle cx="565.8" cy="733.0" r="2.3"/>
<circle cx="565.8" cy="736.0" r="2.3"/>
<circle cx="565.8" cy="806.0" r="2.3"/>
<circle cx="565.8" cy="814.0" r="2.3"/>
<circle cx="565.8" cy="820.0" r="2.3"/>
<circle cx="565.8" cy="823.0" r="2.3"/>
<circle cx="565.8" cy="826.0" r="2.3"/>
<circle cx="565.8" cy="832.0" r="2.3"/>
<circle cx="581.0" cy="647.7" r="2.3"/>
<circle cx="581.0" cy="661.2" r="2.3"/>
<circle cx="581.0" cy="698.5" r="2.3"/>
<circle cx="581.0" cy="709.0" r="2.3"/>
<circle cx="581.0" cy="716.5" r="2.3"/>
<circle cx="581.0" cy="719.0" r="2.3"/>
<circle cx="581.0" cy="721.0" r="2.3"/>
<circle cx="581.0" cy="729.0" r="2.3"/>
<circle cx="581.0" cy="731.5" r="2.3"/>
<circle cx="581.0" cy="734.0" r="2.3"/>
<circle cx="581.0" cy="736.5" r="2.3"/>
<circle cx="581.0" cy="741.0" r="2.3"/>
<circle cx="581.0" cy="744.0" r="2.3"/>
<circle cx="581.0" cy="751.0" r="2.3"/>
<circle cx="581.0" cy="758.0" r="2.3"/>
<circle cx="581.0" cy="760.0" r="2.3"/>
<circle cx="581.0" cy="764.0" r="2.3"/>
<circle cx="581.0" cy="767.0" r="2.3"/>
<circle cx="581.0" cy="772.5" r="2.3"/>
<circle cx="581.0" cy="782.5" r="2.3"/>
<circle cx="581.0" cy="790.5" r="2.3"/>
<circle cx="581.0" cy="796.0" r="2.3"/>
<circle cx="581.0" cy="799.0" r="2.3"/>
<circle cx="581.0" cy="801.5" r="2.3"/>
<circle cx="581.0" cy="805.0" r="2.3"/>
<circle cx="581.0" cy="808.0" r="2.3"/>
<circle cx="581.0" cy="811.0" r="2.3"/>
<circle cx="581.0" cy="814.0" r="2.3"/>
<circle cx="581.0" cy="817.0" r="2.3"/>
<circle cx="581.0" cy="827.0" r="2.3"/>
<circle cx="581.0" cy="830.0" r="2.3"/>
<circle cx="581.0" cy="833.0" r="2.3"/>
<circle cx="575.9" cy="675.0" r="2.3"/>
<circle cx="575.9" cy="685.5" r="2.3"/>
<circle cx="575.9" cy="688.0" r="2.3"/>
<circle cx="575.9" cy="694.0" r="2.3"/>
<circle cx="575.9" cy="699.0" r="2.3"/>
<circle cx="575.9" cy="701.0" r="2.3"/>
<circle cx="575.9" cy="704.5" r="2.3"/>
<circle cx="575.9" cy="707.0" r="2.3"/>
<circle cx="575.9" cy="713.0" r="2.3"/>
<circle cx="575.9" cy="716.0" r="2.3"/>
<circle cx="575.9" cy="718.0" r="2.3"/>
<circle cx="575.9" cy="723.0" r="2.3"/>
<circle cx="575.9" cy="731.5" r="2.3"/>
<circle cx="575.9" cy="737.0" r="2.3"/>
<circle cx="575.9" cy="743.0" r="2.3"/>
<circle cx="575.9" cy="746.0" r="2.3"/>
<circle cx="575.9" cy="752.0" r="2.3"/>
<circle cx="575.9" cy="755.0" r="2.3"/>
<circle cx="575.9" cy="758.0" r="2.3"/>
<circle cx="575.9" cy="763.0" r="2.3"/>
<circle cx="575.9" cy="766.0" r="2.3"/>
<circle cx="575.9" cy="769.0" r="2.3"/>
<circle cx="575.9" cy="772.0" r="2.3"/>
<circle cx="575.9" cy="778.0" r="2.3"/>
<circle cx="575.9" cy="786.0" r="2.3"/>
<circle cx="575.9" cy="789.0" r="2.3"/>
<circle cx="575.9" cy="792.0" r="2.3"/>
<circle cx="575.9" cy="795.0" r="2.3"/>
<circle cx="575.9" cy="801.0" r="2.3"/>
<circle cx="575.9" cy="804.0" r="2.3"/>
<circle cx="575.9" cy="807.0" r="2.3"/>
<circle cx="575.9" cy="810.0" r="2.3"/>
<circle cx="575.9" cy="813.0" r="2.3"/>
<circle cx="575.9" cy="816.0" r="2.3"/>
<circle cx="575.9" cy="819.0" r="2.3"/>
<circle cx="591.2" cy="717.5" r="2.3"/>
<circle cx="591.2" cy="728.3" r="2.3"/>
<circle cx="591.2" cy="735.5" r="2.3"/>
<circle cx="591.2" cy="743.2" r="2.3"/>
<circle cx="591.2" cy="760.0" r="2.3"/>
<circle cx="591.2" cy="765.5" r="2.3"/>
<circle cx="591.2" cy="780.0" r="2.3"/>
<circle cx="591.2" cy="784.0" r="2.3"/>
<circle cx="591.2" cy="790.5" r="2.3"/>
<circle cx="591.2" cy="802.0" r="2.3"/>
<circle cx="591.2" cy="807.0" r="2.3"/>
<circle cx="591.2" cy="812.0" r="2.3"/>
<circle cx="591.2" cy="815.0" r="2.3"/>
<circle cx="591.2" cy="821.0" r="2.3"/>
<circle cx="591.2" cy="824.5" r="2.3"/>
<circle cx="591.2" cy="829.5" r="2.3"/>
<circle cx="596.3" cy="693.0" r="2.3"/>
<circle cx="596.3" cy="720.5" r="2.3"/>
<circle cx="596.3" cy="726.0" r="2.3"/>
<circle cx="596.3" cy="741.0" r="2.3"/>
<circle cx="596.3" cy="753.0" r="2.3"/>
<circle cx="596.3" cy="768.0" r="2.3"/>
<circle cx="596.3" cy="771.0" r="2.3"/>
<circle cx="596.3" cy="779.5" r="2.3"/>
<circle cx="596.3" cy="790.0" r="2.3"/>
<circle cx="596.3" cy="793.5" r="2.3"/>
<circle cx="596.3" cy="802.0" r="2.3"/>
<circle cx="596.3" cy="808.5" r="2.3"/>
<circle cx="596.3" cy="819.0" r="2.3"/>
<circle cx="596.3" cy="830.0" r="2.3"/>
<circle cx="601.3" cy="723.5" r="2.3"/>
<circle cx="601.3" cy="745.0" r="2.3"/>
<circle cx="601.3" cy="777.0" r="2.3"/>
<circle cx="601.3" cy="794.0" r="2.3"/>
<circle cx="601.3" cy="807.8" r="2.3"/>
<circle cx="601.3" cy="821.0" r="2.3"/>
<circle cx="601.3" cy="831.2" r="2.3"/>
<circle cx="606.4" cy="763.8" r="2.3"/>
<circle cx="606.4" cy="785.5" r="2.3"/>
<circle cx="606.4" cy="793.0" r="2.3"/>
<circle cx="606.4" cy="796.0" r="2.3"/>
<circle cx="606.4" cy="830.5" r="2.3"/>
<circle cx="611.5" cy="809.2" r="2.3"/>
<circle cx="611.5" cy="818.0" r="2.3"/>
<circle cx="611.5" cy="820.5" r="2.3"/>
<circle cx="616.6" cy="835.0" r="2.3"/>
<circle cx="626.7" cy="806.2" r="2.3"/>
</g>
<path d="M558.0 840.0 L558.0 839.5 L558.0 839.0 L558.1 838.2 L558.1 837.3 L558.2 836.3 L558.3 835.0 L558.5 833.5 L558.7 831.8 L558.9 829.9 L559.2 827.8 L559.4 825.6 L559.7 823.3 L559.9 820.8 L560.2 818.1 L560.4 815.3 L560.7 812.4 L560.9 809.5 L561.2 806.7 L561.5 803.9 L561.8 801.1 L562.1 798.4 L562.4 795.6 L562.7 792.8 L563.0 790.0 L563.3 787.2 L563.7 784.4 L564.0 781.6 L564.3 778.9 L564.7 776.1 L565.0 773.3 L565.3 770.5 L565.7 767.8 L566.0 765.0 L566.3 762.2 L566.7 759.5 L567.0 756.7 L567.4 753.9 L567.8 751.0 L568.2 748.0 L568.5 745.2 L568.9 742.5 L569.2 740.0 L569.5 737.7 L569.7 735.6 L569.9 733.6 L570.0 731.8 L570.2 730.0 L570.3 728.3 L570.4 726.7 L570.4 725.3 L570.4 723.9 L570.4 722.6 L570.4 721.3 L570.4 720.0 L570.4 718.7 L570.3 717.3 L570.3 716.0 L570.2 714.7 L570.1 713.4 L570.0 712.0 L569.9 710.6 L569.8 709.2 L569.7 707.8 L569.5 706.4 L569.4 704.9 L569.2 703.5 L569.0 702.1 L568.8 700.6 L568.6 699.2 L568.4 697.8 L568.1 696.4 L567.9 695.0 L567.7 693.7 L567.5 692.3 L567.2 691.1 L567.0 689.8 L566.7 688.5 L566.4 687.2 L566.0 685.9 L565.6 684.6 L565.2 683.3 L564.7 682.0 L564.2 680.7 L563.7 679.4 L563.1 678.1 L562.5 676.8 L561.9 675.5 L561.2 674.2 L560.5 672.9 L559.8 671.7 L559.1 670.5 L558.3 669.3 L557.6 668.2 L556.8 667.0 L556.0 665.9 L555.1 664.7 L554.2 663.5 L553.2 662.3 L552.2 661.2 L551.1 660.0 L550.0 658.8 L548.9 657.7 L547.7 656.6 L546.4 655.4 L545.1 654.3 L543.8 653.3 L542.4 652.2 L541.1 651.2 L539.8 650.3 L538.5 649.3 L537.2 648.5 L535.9 647.6 L534.6 646.8 L533.3 646.0 L532.0 645.2 L530.7 644.4 L529.4 643.7 L528.2 642.9 L526.9 642.2 L525.6 641.4 L524.3 640.6 L523.0 639.9 L521.7 639.1 L520.4 638.4 L519.1 637.6 L517.8 636.9 L516.6 636.2 L515.4 635.6 L514.2 635.0 L513.0 634.3 L511.6 633.5 L510.0 632.6 L508.1 631.5 L506.1 630.2 L503.9 628.9 L501.6 627.5 L499.2 626.0 L496.7 624.6 L494.1 623.2 L491.4 621.7 L488.6 620.3 L485.7 618.8 L482.8 617.3 L480.0 615.8 L477.2 614.3 L474.4 612.7 L471.6 611.2 L468.9 609.7 L466.1 608.2 L463.3 606.7 L460.5 605.3 L457.6 603.9 L454.8 602.5 L452.0 601.1 L449.3 599.9 L446.7 598.7 L444.3 597.7 L442.1 596.8 L440.0 595.9 L437.9 595.1 L435.7 594.2 L433.3 593.2 L430.7 592.1 L428.0 591.0 L425.2 589.8 L422.4 588.5 L419.5 587.2 L416.7 585.8 L413.9 584.3 L411.1 582.7 L408.4 581.0 L405.6 579.3 L402.8 577.5 L400.0 575.8 L397.2 574.0 L394.4 572.3 L391.6 570.4 L388.9 568.6 L386.1 566.8 L383.3 565.0 L380.5 563.2 L377.8 561.4 L375.0 559.6 L372.2 557.8 L369.5 556.0 L366.7 554.2 L363.9 552.4 L361.1 550.5 L358.4 548.7 L355.6 546.8 L352.8 544.9 L350.0 542.9 L347.2 540.9 L344.4 538.8 L341.6 536.7 L338.9 534.5 L336.1 532.3 L333.3 530.0 L330.5 527.6 L327.6 525.0 L324.8 522.4 L322.0 519.7 L319.3 517.1 L316.7 514.6 L314.3 512.2 L312.1 510.0 L310.0 507.7 L307.9 505.5 L305.7 503.1 L303.3 500.5 L300.7 497.7 L298.0 494.7 L295.2 491.6 L292.4 488.4 L289.5 485.2 L286.7 482.0 L283.9 478.9 L281.1 475.7 L278.4 472.6 L275.6 469.4 L272.8 466.2 L270.0 463.0 L267.2 459.8 L264.4 456.5 L261.6 453.2 L258.9 449.9 L256.1 446.7 L253.3 443.4 L250.5 440.1 L247.8 436.8 L245.0 433.5 L242.2 430.3 L239.5 427.1 L236.7 424.0 L233.9 421.0 L231.1 418.0 L228.4 415.2 L225.6 412.3 L222.8 409.6 L220.0 406.9 L217.2 404.3 L214.4 401.9 L211.6 399.5 L208.9 397.1 L206.1 394.7 L203.3 392.2 L200.5 389.6 L197.6 386.9 L194.7 384.1 L191.9 381.3 L189.2 378.6 L186.7 375.9 L184.4 373.2 L182.3 370.6 L180.3 367.9 L178.5 365.3 L176.7 362.8 L175.0 360.3 L173.4 357.9 L171.9 355.6 L170.6 353.4 L169.2 351.1 L168.0 348.9 L166.7 346.7 L165.4 344.5 L164.2 342.2 L163.0 340.0 L161.9 337.8 L160.8 335.5 L159.7 333.3 L158.7 331.1 L157.7 328.9 L156.7 326.6 L155.8 324.4 L155.0 322.2 L154.2 320.0 L153.5 317.8 L152.8 315.6 L152.1 313.4 L151.6 311.1 L151.0 308.9 L150.5 306.7 L150.0 304.5 L149.6 302.2 L149.2 300.0 L148.9 297.8 L148.6 295.5 L148.3 293.3 L148.1 291.1 L147.9 288.9 L147.8 286.6 L147.8 284.4 L147.7 282.2 L147.7 280.0 L147.7 277.8 L147.7 275.6 L147.8 273.5 L147.9 271.3 L148.1 269.0 L148.3 266.7 L148.6 264.3 L148.9 261.7 L149.3 259.1 L149.8 256.5 L150.3 254.0 L150.8 251.7 L151.4 249.6 L152.0 247.5 L152.7 245.6 L153.5 243.7 L154.2 241.9 L155.0 240.0 L155.8 238.1 L156.6 236.2 L157.4 234.3 L158.3 232.4 L159.1 230.5 L160.0 228.7 L160.9 226.9 L161.8 225.0 L162.7 223.2 L163.6 221.4 L164.4 219.7 L165.3 218.0 L166.2 216.4 L167.0 214.8 L167.9 213.2 L168.7 211.8 L169.4 210.4 L170.0 209.3 L170.4 208.4 L170.7 207.6 L170.9 206.9 L171.1 206.4 L171.2 205.9 L171.3 205.6 L170.9 205.4 L170.4 205.0 L169.7 204.6 L169.0 204.2 L168.2 203.9 L167.3 203.7 L166.4 203.7 L165.3 203.7 L164.2 203.8 L163.1 204.0 L161.9 204.2 L160.7 204.4 L159.4 204.6 L158.1 204.8 L156.7 205.1 L155.3 205.4 L154.0 205.7 L152.7 206.0 L151.5 206.4 L150.3 206.8 L149.2 207.3 L148.1 207.8 L147.0 208.3 L146.0 208.7 L145.0 209.1 L143.9 209.6 L142.9 210.0 L142.0 210.4 L141.3 210.8 L140.7 211.0 L138.5 210.5 L137.6 209.0 L139.0 208.2 L142.0 208.0 L146.7 206.7 L147.0 206.1 L147.5 205.2 L148.0 204.2 L148.6 203.0 L149.3 201.9 L150.0 200.7 L150.7 199.5 L151.5 198.3 L152.4 197.1 L153.3 195.8 L154.2 194.5 L155.3 193.3 L156.4 192.1 L157.6 191.0 L158.8 189.8 L160.1 188.6 L161.6 187.4 L163.3 186.0 L165.2 184.4 L167.4 182.7 L169.7 180.9 L172.0 179.2 L174.4 177.5 L176.7 176.0 L178.9 174.7 L181.1 173.6 L183.4 172.6 L185.6 171.7 L187.8 170.8 L190.0 169.8 L192.2 168.8 L194.4 167.8 L196.6 166.8 L198.9 165.9 L201.1 165.0 L203.3 164.1 L205.5 163.3 L207.8 162.5 L210.0 161.8 L212.2 161.1 L214.5 160.5 L216.7 159.8 L219.0 159.1 L221.3 158.5 L223.6 157.8 L225.8 157.2 L228.0 156.6 L230.0 156.1 L231.7 155.6 L233.2 155.3 L234.6 154.9 L236.0 154.6 L237.8 154.2 L240.0 153.7 L242.8 153.1 L245.9 152.3 L249.4 151.5 L253.0 150.7 L256.6 150.0 L260.0 149.3 L263.3 148.7 L266.7 148.2 L270.0 147.7 L273.3 147.2 L276.7 146.8 L280.0 146.5 L283.4 146.2 L286.8 146.0 L290.2 145.8 L293.6 145.6 L296.9 145.5 L300.0 145.5 L302.9 145.5 L305.7 145.6 L308.4 145.7 L311.0 145.9 L313.5 146.2 L316.0 146.6 L318.4 147.1 L320.8 147.7 L323.1 148.4 L325.4 149.2 L327.7 150.1 L330.0 151.0 L332.3 152.0 L334.6 153.1 L336.9 154.2 L339.2 155.4 L341.6 156.7 L344.0 158.0 L346.6 159.4 L349.3 161.0 L352.1 162.6 L354.9 164.2 L357.5 165.7 L360.0 167.0 L362.2 168.1 L364.3 169.1 L366.2 169.9 L368.1 170.7 L370.0 171.4 L372.0 172.0 L374.0 172.6 L376.1 173.0 L378.1 173.4 L380.1 173.7 L382.1 173.9 L384.0 174.0 L385.9 173.9 L387.8 173.7 L389.6 173.3 L391.4 172.9 L393.0 172.4 L394.5 172.0 L395.8 171.6 L396.9 171.1 L397.9 170.6 L398.9 170.1 L399.8 169.6 L400.8 169.0 L401.8 168.4 L402.9 167.8 L403.9 167.1 L405.0 166.4 L406.0 165.7 L407.0 165.0 L408.0 164.3 L408.9 163.6 L409.8 162.8 L410.7 162.0 L411.7 161.1 L412.8 160.0 L414.0 158.7 L415.3 157.2 L416.6 155.6 L418.0 153.9 L419.4 152.2 L420.8 150.5 L422.2 148.8 L423.6 147.0 L425.0 145.2 L426.3 143.5 L427.7 141.7 L429.0 140.0 L430.2 138.4 L431.4 136.8 L432.6 135.2 L433.7 133.7 L434.9 132.1 L436.0 130.5 L437.1 128.8 L438.3 127.1 L439.4 125.3 L440.5 123.5 L441.5 121.7 L442.6 120.0 L443.6 118.3 L444.6 116.6 L445.6 115.0 L446.6 113.3 L447.6 111.7 L448.6 110.0 L449.6 108.3 L450.6 106.7 L451.5 105.0 L452.5 103.3 L453.5 101.7 L454.5 100.0 L455.5 98.3 L456.5 96.7 L457.5 95.0 L458.6 93.3 L459.6 91.7 L460.6 90.0 L461.6 88.3 L462.6 86.7 L463.6 85.0 L464.6 83.3 L465.6 81.7 L466.6 80.0 L467.6 78.3 L468.6 76.7 L469.7 75.0 L470.7 73.3 L471.7 71.7 L472.8 70.0 L473.9 68.3 L474.9 66.7 L476.0 65.0 L477.1 63.3 L478.3 61.7 L479.4 60.0 L480.6 58.3 L481.8 56.7 L483.0 55.0 L484.2 53.3 L485.5 51.7 L486.7 50.0 L487.9 48.3 L489.2 46.7 L490.4 45.0 L491.6 43.3 L492.9 41.7 L494.1 40.0 L495.3 38.3 L496.6 36.7 L497.8 35.0 L499.0 33.3 L500.3 31.7 L501.5 30.0 L502.7 28.3 L504.0 26.7 L505.2 25.0 L506.5 23.3 L507.7 21.7 L509.0 20.0 L510.3 18.3 L511.6 16.7 L512.9 15.0 L514.2 13.3 L515.5 11.7 L516.8 10.0 L518.2 8.3 L519.6 6.5 L521.0 4.7 L522.4 3.0 L523.7 1.4 L524.8 0.0 L525.7 -1.2 L526.6 -2.2 L527.3 -3.1 L527.9 -3.9 L528.4 -4.5 L528.8 -5.0 L528.3 -4.5 L527.7 -3.9 L527.0 -3.1 L526.2 -2.2 L525.2 -1.2 L524.2 0.0 L523.0 1.4 L521.7 3.0 L520.3 4.7 L518.9 6.5 L517.4 8.3 L516.0 10.0 L514.7 11.7 L513.3 13.3 L512.0 15.0 L510.7 16.7 L509.3 18.3 L508.0 20.0 L506.7 21.7 L505.3 23.3 L504.0 25.0 L502.6 26.7 L501.3 28.3 L500.0 30.0 L498.7 31.7 L497.4 33.3 L496.1 35.0 L494.8 36.7 L493.6 38.3 L492.3 40.0 L491.0 41.7 L489.8 43.3 L488.5 45.0 L487.2 46.7 L486.0 48.3 L484.7 50.0 L483.4 51.7 L482.1 53.3 L480.8 55.0 L479.5 56.7 L478.2 58.3 L477.0 60.0 L475.8 61.7 L474.6 63.3 L473.4 65.0 L472.2 66.7 L471.0 68.3 L469.9 70.0 L468.8 71.7 L467.7 73.3 L466.6 75.0 L465.5 76.7 L464.4 78.3 L463.3 80.0 L462.2 81.7 L461.1 83.3 L460.1 85.0 L459.0 86.7 L457.9 88.3 L456.8 90.0 L455.7 91.7 L454.5 93.3 L453.3 95.0 L452.1 96.7 L451.0 98.3 L449.8 100.0 L448.6 101.7 L447.5 103.3 L446.3 105.0 L445.2 106.7 L444.1 108.3 L443.0 110.0 L442.0 111.7 L441.0 113.4 L440.1 115.2 L439.1 116.9 L438.1 118.5 L437.1 120.0 L436.0 121.4 L434.8 122.7 L433.6 123.9 L432.4 125.1 L431.2 126.3 L430.0 127.5 L428.8 128.8 L427.6 130.1 L426.4 131.4 L425.3 132.7 L424.2 133.9 L423.3 135.0 L422.5 135.9 L421.8 136.8 L421.2 137.6 L420.6 138.3 L420.1 138.9 L419.5 139.5 L418.9 140.0 L418.3 140.5 L417.8 140.9 L417.2 141.3 L416.8 141.6 L416.5 141.8 L416.4 141.9 L416.2 142.1 L416.0 142.4 L415.8 142.4 L415.6 142.2 L415.5 141.5 L415.4 140.2 L415.2 138.5 L415.1 136.5 L415.0 134.3 L415.0 132.1 L415.0 130.0 L415.1 128.0 L415.2 126.0 L415.4 123.9 L415.6 121.9 L415.8 119.9 L416.0 118.0 L416.1 116.2 L416.3 114.5 L416.4 112.8 L416.6 111.2 L416.7 109.6 L417.0 108.0 L417.4 106.3 L417.8 104.6 L418.3 102.9 L418.8 101.3 L419.2 100.0 L419.5 99.0 L425.0 92.5 L429.5 88.0 L435.0 82.5 L443.3 72.7 L456.3 60.0 L464.5 50.0 L472.5 40.0 L480.3 30.0 L488.3 20.0 L496.6 10.0 L505.0 0.0 L509.0 -5.0" fill="none" stroke="#0000ff" stroke-width="5.4" stroke-linejoin="round" stroke-linecap="square"/>
</g>
<path d="M78.5 835.8 V-1 M713.0 835.8 V-1 M77.97 835.8 H713.53" fill="none" stroke="#000" stroke-width="1.07"/>
<path d="M78.5 0 H713.0" fill="none" stroke="#000" stroke-opacity="0.85" stroke-width="1.07"/>
<line x1="129.26" y1="835.8" x2="129.26" y2="840.5" stroke="#000" stroke-width="1.07"/>
<text x="129.26" y="866.2" font-size="26.8" text-anchor="middle">0.0</text>
<line x1="230.78" y1="835.8" x2="230.78" y2="840.5" stroke="#000" stroke-width="1.07"/>
<text x="230.78" y="866.2" font-size="26.8" text-anchor="middle">0.2</text>
<line x1="332.30" y1="835.8" x2="332.30" y2="840.5" stroke="#000" stroke-width="1.07"/>
<text x="332.30" y="866.2" font-size="26.8" text-anchor="middle">0.4</text>
<line x1="433.82" y1="835.8" x2="433.82" y2="840.5" stroke="#000" stroke-width="1.07"/>
<text x="433.82" y="866.2" font-size="26.8" text-anchor="middle">0.6</text>
<line x1="535.34" y1="835.8" x2="535.34" y2="840.5" stroke="#000" stroke-width="1.07"/>
<text x="535.34" y="866.2" font-size="26.8" text-anchor="middle">0.8</text>
<line x1="636.86" y1="835.8" x2="636.86" y2="840.5" stroke="#000" stroke-width="1.07"/>
<text x="636.86" y="866.2" font-size="26.8" text-anchor="middle">1.0</text>
<line x1="73.8" y1="39.00" x2="78.5" y2="39.00" stroke="#000" stroke-width="1.07"/>
<text x="69.1" y="49.7" font-size="26.8" text-anchor="end">4</text>
<line x1="73.8" y1="196.08" x2="78.5" y2="196.08" stroke="#000" stroke-width="1.07"/>
<text x="69.1" y="206.8" font-size="26.8" text-anchor="end">6</text>
<line x1="73.8" y1="353.16" x2="78.5" y2="353.16" stroke="#000" stroke-width="1.07"/>
<text x="69.1" y="363.9" font-size="26.8" text-anchor="end">8</text>
<line x1="73.8" y1="510.24" x2="78.5" y2="510.24" stroke="#000" stroke-width="1.07"/>
<text x="69.1" y="520.9" font-size="26.8" text-anchor="end">10</text>
<line x1="73.8" y1="667.32" x2="78.5" y2="667.32" stroke="#000" stroke-width="1.07"/>
<text x="69.1" y="678.0" font-size="26.8" text-anchor="end">12</text>
<line x1="73.8" y1="824.40" x2="78.5" y2="824.40" stroke="#000" stroke-width="1.07"/>
<text x="69.1" y="835.1" font-size="26.8" text-anchor="end">14</text>
<text x="396.8" y="899.9" font-size="31.95" text-anchor="middle">J - Ks (mag)</text>
<text transform="translate(23.8 417.9) rotate(-90)" font-size="31.95" text-anchor="middle">J (mag)</text>
<rect x="752.8" y="0.0" width="41.7" height="835.8" fill="url(#cb)" stroke="#000" stroke-width="1.07"/>
<line x1="794.5" y1="835.80" x2="799.2" y2="835.80" stroke="#000" stroke-width="1.07"/>
<text x="803.5" y="844.6" font-size="21.2">0.000</text>
<line x1="794.5" y1="680.34" x2="799.2" y2="680.34" stroke="#000" stroke-width="1.07"/>
<text x="803.5" y="689.1" font-size="21.2">0.002</text>
<line x1="794.5" y1="524.88" x2="799.2" y2="524.88" stroke="#000" stroke-width="1.07"/>
<text x="803.5" y="533.7" font-size="21.2">0.004</text>
<line x1="794.5" y1="369.42" x2="799.2" y2="369.42" stroke="#000" stroke-width="1.07"/>
<text x="803.5" y="378.2" font-size="21.2">0.006</text>
<line x1="794.5" y1="213.96" x2="799.2" y2="213.96" stroke="#000" stroke-width="1.07"/>
<text x="803.5" y="222.8" font-size="21.2">0.008</text>
<line x1="794.5" y1="58.50" x2="799.2" y2="58.50" stroke="#000" stroke-width="1.07"/>
<text x="803.5" y="67.3" font-size="21.2">0.010</text>
<text transform="translate(893 417.9) rotate(-90)" font-size="31.95" text-anchor="middle">Probability Density</text>
<rect x="88.9" y="10.7" width="306.5" height="68.2" rx="2.8" fill="#fff" fill-opacity="0.8" stroke="#ccc" stroke-opacity="0.8" stroke-width="1.34"/>
<circle cx="119.4" cy="29.2" r="2.3" fill="#000"/>
<path d="M96 59.5 H143.3" stroke="#0000ff" stroke-width="5.4" stroke-linecap="butt"/>
<text x="158.2" y="35.7" font-size="21.25">Obs</text>
<text x="158.2" y="66.9" font-size="21.25">Theoretical Isochrone</text>
</svg></body></html>
